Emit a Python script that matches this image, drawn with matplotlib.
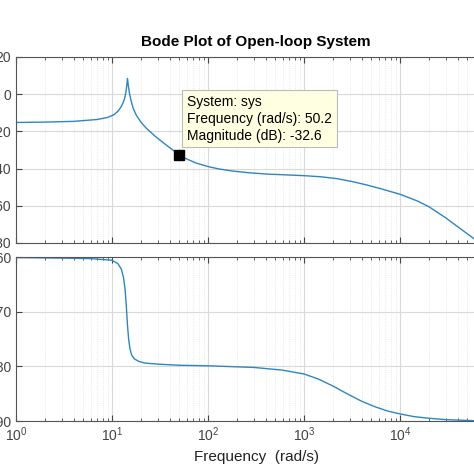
import matplotlib
matplotlib.use("Agg")
import matplotlib.pyplot as plt
import numpy as np
from matplotlib.ticker import LogLocator, NullFormatter, FixedLocator

plt.rcParams['font.family'] = ['Liberation Sans', 'DejaVu Sans']

mag_w = [1, 2, 4, 7, 9, 10.5, 11.5, 12.3, 13, 13.5, 13.9, 14.2, 14.5, 14.8, 15.2, 15.8, 16.6, 18, 20, 23, 28, 34, 40, 50.2, 60, 75, 100, 130, 180, 275, 400, 600, 1000, 1500, 2200, 3200, 4500, 6500, 10000, 15000, 20000, 30000, 60000, 100000]
mag_db = [-15.2, -15.0, -14.6, -13.6, -12.5, -11.0, -9.2, -7.2, -4.8, -2.5, 0.5, 4.0, 8.5, 4.5, 0.5, -3.5, -7.5, -11.5, -15.0, -18.5, -22.5, -26.0, -28.8, -32.6, -34.8, -37.0, -38.9, -40.2, -41.3, -42.3, -42.9, -43.3, -43.8, -44.4, -45.4, -47.0, -48.8, -51.0, -53.8, -57.3, -60.5, -66.5, -78.0, -86.0]

ph_w = [1, 3, 6, 10, 11.5, 12.5, 13.2, 13.7, 14.1, 14.5, 14.9, 15.4, 16, 17, 19, 22, 30, 50, 100, 300, 600, 1000, 1400, 2000, 2800, 4000, 5500, 7500, 10000, 14000, 20000, 30000, 60000, 100000]
ph_deg = [-160.1, -160.2, -160.3, -160.6, -161.2, -162.2, -163.8, -166.0, -169.0, -172.5, -175.0, -176.8, -177.9, -178.6, -179.1, -179.4, -179.6, -179.8, -179.9, -180.2, -180.7, -181.4, -182.3, -183.6, -185.0, -186.4, -187.4, -188.2, -188.7, -189.2, -189.5, -189.75, -189.95, -190.0]

tip_w, tip_db = 50.2, -32.6

line_c = '#2E86C1'
grid_c = '#D9D9D9'
edge_c = '#555555'

fig = plt.figure(figsize=(4.74, 4.74), dpi=100)
ax1 = fig.add_axes([16/474, 1-243/474, 480/474, 186/474])
ax2 = fig.add_axes([16/474, 1-421/474, 480/474, 164/474])

def style(ax):
    ax.set_xscale('log')
    ax.set_xlim(1, 1e5)
    ax.xaxis.set_major_locator(LogLocator(base=10, numticks=10))
    ax.xaxis.set_minor_locator(LogLocator(base=10, subs=np.arange(2, 10), numticks=50))
    ax.xaxis.set_minor_formatter(NullFormatter())
    ax.grid(True, which='major', color=grid_c, lw=0.8, ls='-')
    ax.grid(True, which='minor', color='#E2E2E2', lw=0.6, ls=':')
    ax.tick_params(which='both', direction='in', top=True, right=True, colors='#444444', labelsize=10)
    ax.tick_params(which='major', length=4)
    ax.tick_params(which='minor', length=2)
    for s in ax.spines.values():
        s.set_color(edge_c)
        s.set_linewidth(0.8)
    ax.set_axisbelow(True)

style(ax1)
style(ax2)

ax1.plot(mag_w, mag_db, color=line_c, lw=1.0)
ax1.set_ylim(-80, 20)
ax1.yaxis.set_major_locator(FixedLocator([-80, -60, -40, -20, 0, 20]))
ax1.tick_params(labelbottom=False)
ax1.set_title('Bode Plot of Open-loop System', fontsize=11, fontweight='bold', pad=8)

ax1.plot([tip_w], [tip_db], 's', color='black', ms=7)
ax1.text(60, -0.5, 'System: sys\nFrequency (rad/s): 50.2\nMagnitude (dB): -32.6',
         fontsize=10, va='top', ha='left', linespacing=1.25,
         bbox=dict(boxstyle='square,pad=0.35', fc='#FFFFE1', ec='#BBBBBB', lw=0.8))

ax2.plot(ph_w, ph_deg, color=line_c, lw=1.0)
ax2.set_ylim(-190, -160)
ax2.yaxis.set_major_locator(FixedLocator([-190, -180, -170, -160]))
ax2.set_xlabel('Frequency  (rad/s)', fontsize=11, color='#222222')

fig.savefig('out.png', dpi=100)
